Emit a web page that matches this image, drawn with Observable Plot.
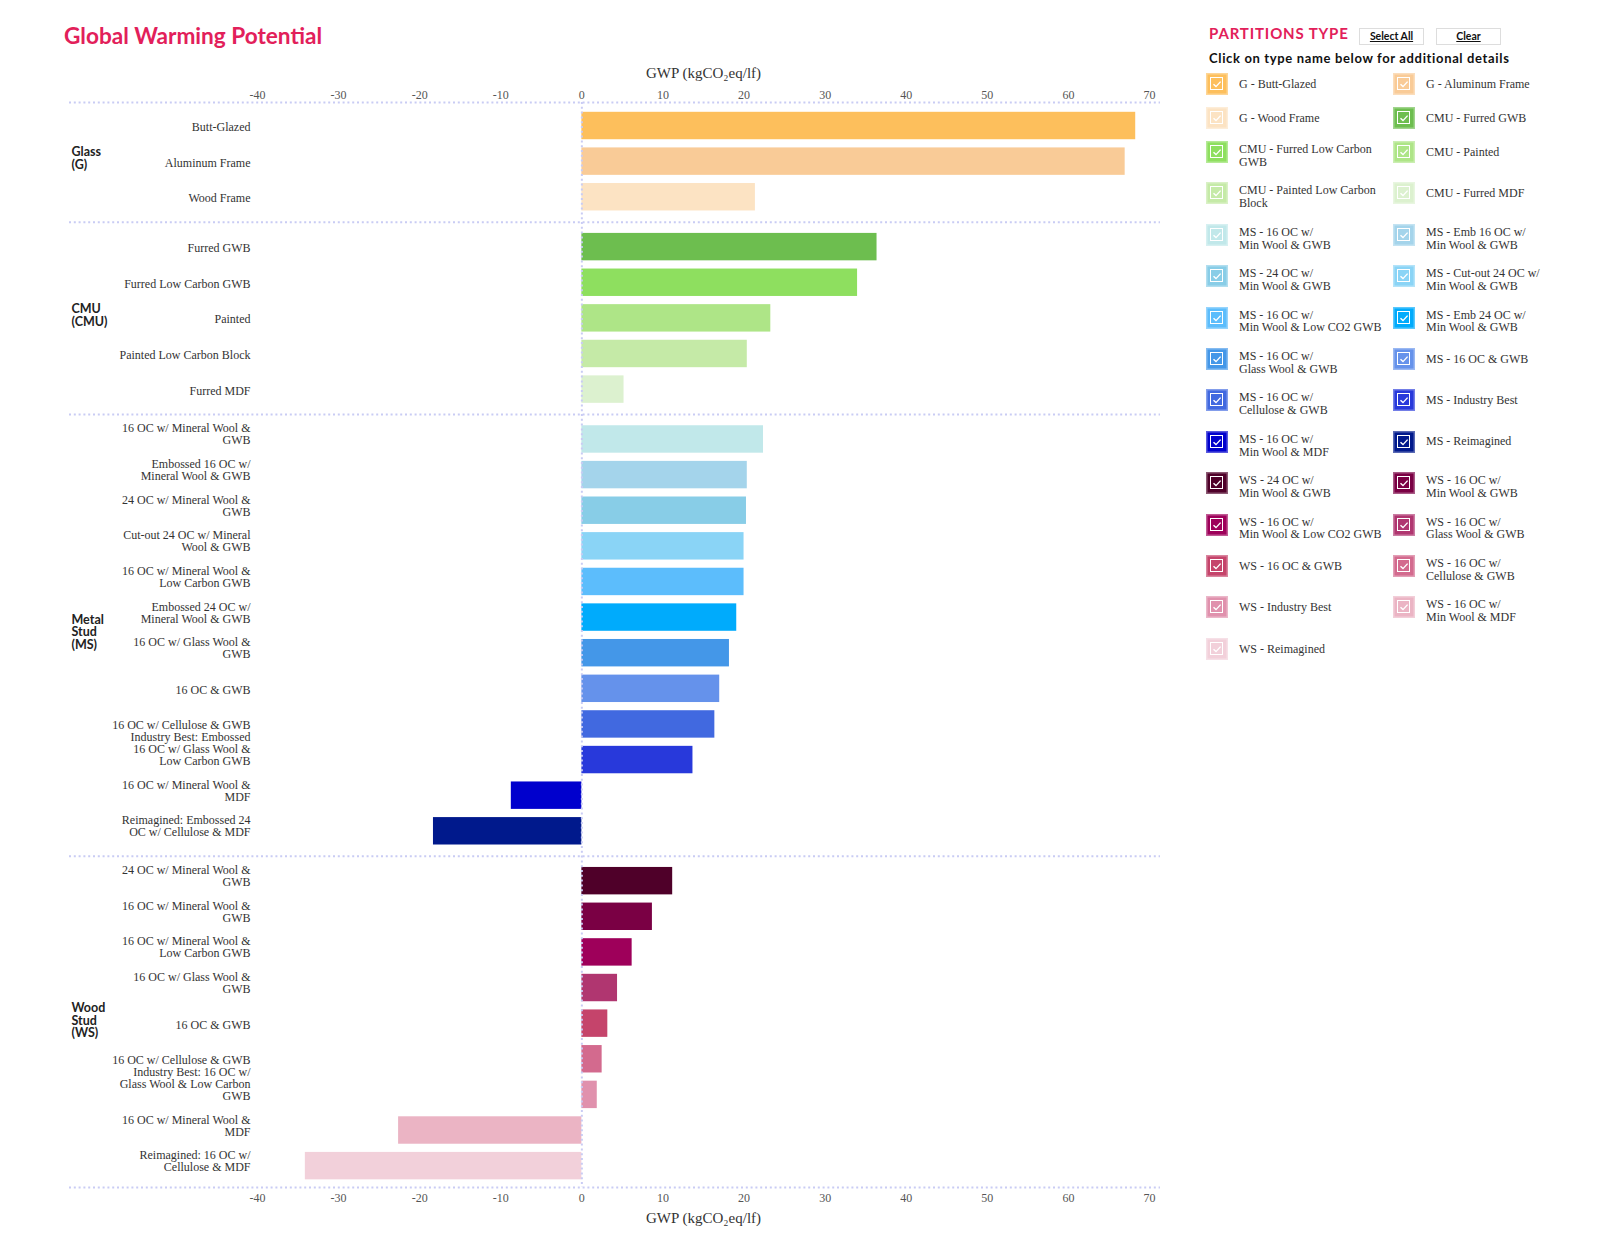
<!DOCTYPE html>
<html><head><meta charset="utf-8">
<script src="https://cdn.jsdelivr.net/npm/d3@7"></script>
<script src="https://cdn.jsdelivr.net/npm/@observablehq/plot@0.6"></script>
<style>
body{margin:0;background:#fff;width:1600px;height:1242px;position:relative;overflow:hidden}
#title{position:absolute;left:64px;top:25px;font:700 22.6px/22px Lato,sans-serif;color:#e2205a;white-space:nowrap}
#chart{position:absolute;left:0;top:55px}
#lgHead{position:absolute;left:1209px;top:26px;font:700 15px/15px Lato,sans-serif;color:#e2205a;letter-spacing:0.85px;white-space:nowrap}
.btn{position:absolute;top:28px;width:63px;height:15px;border:1.5px solid #ddd;font:700 10.5px/15px Lato,sans-serif;color:#111;text-align:center;text-decoration:underline}
#lgSub{position:absolute;left:1209px;top:52px;font:700 13px/13px Lato,sans-serif;color:#111;letter-spacing:0.65px;white-space:nowrap}
#legend{position:absolute;left:1206px;top:73px;display:grid;grid-template-columns:187px 187px;row-gap:12px}
.item{display:flex;align-items:flex-start}
.box{width:22px;height:22px;position:relative;flex:none;box-shadow:inset 0 0 0 1.5px rgba(255,255,255,0.35)}
.box .in{position:absolute;left:4px;top:4px;width:11px;height:11px;border:1.5px solid #fff}
.box svg{position:absolute;left:0;top:0}
.lab{margin-left:11px;min-height:22px;padding:2px 0;box-sizing:border-box;display:flex;align-items:center;white-space:pre-line;font:12px/12.7px 'Liberation Serif',serif;color:#333}
</style></head>
<body>
<div id="title">Global Warming Potential</div>
<div id="chart"></div>
<div id="lgHead">PARTITIONS TYPE</div>
<div class="btn" style="left:1359px">Select All</div>
<div class="btn" style="left:1436px">Clear</div>
<div id="lgSub">Click on type name below for additional details</div>
<div id="legend"></div>
<script>
// ---- data ----
const groupNames = ["Glass\n(G)", "CMU\n(CMU)", "Metal\nStud\n(MS)", "Wood\nStud\n(WS)"];
const groupCodes = ["G", "CMU", "MS", "WS"];

const glassLabels = ["Butt-Glazed", "Aluminum Frame", "Wood Frame"];
const glassValues = [68.3, 67.0, 21.4];
const glassColors = ["#FDBF5C", "#F9CB97", "#FCE3C3"];
const glassLegend = ["G - Butt-Glazed", "G - Aluminum Frame", "G - Wood Frame"];

const cmuLabels = ["Furred GWB", "Furred Low Carbon GWB", "Painted", "Painted Low Carbon Block", "Furred MDF"];
const cmuValues = [36.4, 34.0, 23.3, 20.4, 5.2];
const cmuColors = ["#6DBE4F", "#8EDF5F", "#AEE587", "#C5EAA7", "#DCF1CF"];
const cmuLegend = ["CMU - Furred GWB", "CMU - Furred Low Carbon\nGWB", "CMU - Painted", "CMU - Painted Low Carbon\nBlock", "CMU - Furred MDF"];

const msLabels = ["16 OC w/ Mineral Wool &\nGWB", "Embossed 16 OC w/\nMineral Wool & GWB", "24 OC w/ Mineral Wool &\nGWB",
  "Cut-out 24 OC w/ Mineral\nWool & GWB", "16 OC w/ Mineral Wool &\nLow Carbon GWB", "Embossed 24 OC w/\nMineral Wool & GWB",
  "16 OC w/ Glass Wool &\nGWB", "16 OC & GWB", "16 OC w/ Cellulose & GWB",
  "Industry Best: Embossed\n16 OC w/ Glass Wool &\nLow Carbon GWB", "16 OC w/ Mineral Wool &\nMDF", "Reimagined: Embossed 24\nOC w/ Cellulose & MDF"];
const msValues = [22.4, 20.4, 20.3, 20.0, 20.0, 19.1, 18.2, 17.0, 16.4, 13.7, -8.7, -18.3];
const msColors = ["#C1E8EA", "#A4D4EB", "#88CDE7", "#8AD4F6", "#5CBDFC", "#00ABFC", "#4497E8", "#6592EB", "#4169E0", "#2839DB", "#0000CD", "#00198C"];
const msLegend = ["MS - 16 OC w/\nMin Wool & GWB", "MS - Emb 16 OC w/\nMin Wool & GWB", "MS - 24 OC w/\nMin Wool & GWB",
  "MS - Cut-out 24 OC w/\nMin Wool & GWB", "MS - 16 OC w/\nMin Wool & Low CO2 GWB", "MS - Emb 24 OC w/\nMin Wool & GWB",
  "MS - 16 OC w/\nGlass Wool & GWB", "MS - 16 OC & GWB", "MS - 16 OC w/\nCellulose & GWB", "MS - Industry Best",
  "MS - 16 OC w/\nMin Wool & MDF", "MS - Reimagined"];

const wsLabels = ["24 OC w/ Mineral Wool &\nGWB", "16 OC w/ Mineral Wool &\nGWB", "16 OC w/ Mineral Wool &\nLow Carbon GWB",
  "16 OC w/ Glass Wool &\nGWB", "16 OC & GWB", "16 OC w/ Cellulose & GWB",
  "Industry Best: 16 OC w/\nGlass Wool & Low Carbon\nGWB", "16 OC w/ Mineral Wool &\nMDF", "Reimagined: 16 OC w/\nCellulose & MDF"];
const wsValues = [11.2, 8.7, 6.2, 4.4, 3.2, 2.5, 1.9, -22.6, -34.1];
const wsColors = ["#4F0029", "#7A0044", "#9E005A", "#B03670", "#C5446B", "#D36A8E", "#E091AD", "#EBB4C4", "#F2D0DA"];
const wsLegend = ["WS - 24 OC w/\nMin Wool & GWB", "WS - 16 OC w/\nMin Wool & GWB", "WS - 16 OC w/\nMin Wool & Low CO2 GWB",
  "WS - 16 OC w/\nGlass Wool & GWB", "WS - 16 OC & GWB", "WS - 16 OC w/\nCellulose & GWB", "WS - Industry Best",
  "WS - 16 OC w/\nMin Wool & MDF", "WS - Reimagined"];

const xTicks = [-40, -30, -20, -10, 0, 10, 20, 30, 40, 50, 60, 70];
const xLabel = "GWP (kgCO\u2082eq/lf)";

// ---- table built from the arrays ----
const groupTable = [
  {labels: glassLabels, values: glassValues, colors: glassColors, legend: glassLegend},
  {labels: cmuLabels, values: cmuValues, colors: cmuColors, legend: cmuLegend},
  {labels: msLabels, values: msValues, colors: msColors, legend: msLegend},
  {labels: wsLabels, values: wsValues, colors: wsColors, legend: wsLegend}
];
const GAP = 0.4;      // extra band gap between groups
const HALF = 0.385;   // half bar thickness in band units
const rows = [];
const groupRows = [];
const seps = [];
let idx = 0;
groupTable.forEach((g, gi) => {
  const start = rows.length;
  g.labels.forEach((lab, i) => {
    rows.push({key: groupCodes[gi] + "-" + i, label: lab, value: g.values[i], color: g.colors[i], legend: g.legend[i], pos: idx + gi * GAP});
    idx++;
  });
  const first = rows[start].pos, last = rows[rows.length - 1].pos;
  groupRows.push({name: groupNames[gi], pos: (first + last) / 2, first, last});
});
seps.push(rows[0].pos - 0.66);
for (let i = 0; i < groupRows.length - 1; i++) seps.push((groupRows[i].last + groupRows[i + 1].first) / 2);
seps.push(rows[rows.length - 1].pos + 0.6);

const dotted = {stroke: "#c9ccf4", strokeWidth: 2, strokeDasharray: "2 2.8"};

const chart = Plot.plot({
  width: 1170, height: 1180,
  marginLeft: 257, marginRight: 21, marginTop: 47, marginBottom: 48,
  style: {fontFamily: "'Liberation Serif', serif", fontSize: "12px", color: "#333", background: "#fff"},
  x: {domain: [-40, 70], axis: null},
  y: {type: "linear", domain: [seps[0], seps[seps.length - 1]], reverse: true, axis: null},
  color: {type: "ordinal", domain: rows.map(d => d.key), range: rows.map(d => d.color)},
  marks: [
    Plot.ruleY(seps, {y: d => d, ...dotted, insetLeft: -188, insetRight: -11}),
    Plot.rectX(rows, {x1: 0, x2: "value", y1: d => d.pos - HALF, y2: d => d.pos + HALF, fill: "key"}),
    Plot.ruleX([0], dotted),
    Plot.axisX(xTicks, {anchor: "top", tickSize: 0, tickPadding: 4, tickFormat: d => String(d), label: null, fontSize: 12, fill: "#555"}),
    Plot.axisX(xTicks, {anchor: "bottom", tickSize: 0, tickPadding: 6, tickFormat: d => String(d), label: null, fontSize: 12, fill: "#555"}),
    Plot.text([xLabel], {text: d => d, frameAnchor: "top", lineAnchor: "middle", dy: -29, fontSize: 15, fill: "#333"}),
    Plot.text([xLabel], {text: d => d, frameAnchor: "bottom", lineAnchor: "middle", dy: 30.5, fontSize: 15, fill: "#333"}),
    Plot.text(rows, {y: "pos", text: "label", frameAnchor: "left", textAnchor: "end", dx: -7, lineAnchor: "bottom", dy: 5, fontSize: 12, fill: "#333"}),
    Plot.text(groupRows, {y: "pos", text: "name", frameAnchor: "left", textAnchor: "start", dx: -186, dy: -3, fontFamily: "Lato, sans-serif", fontWeight: 700, fontSize: 12.5, lineHeight: 1, fill: "#222"})
  ]
});
document.getElementById("chart").appendChild(chart);

// ---- legend (HTML) ----
const lg = document.getElementById("legend");
rows.forEach(d => {
  const it = document.createElement("div");
  it.className = "item";
  it.innerHTML = `<div class="box" style="background:${d.color}"><div class="in"></div>` +
    `<svg width="22" height="22" viewBox="0 0 22 22"><path d="M7.5 11.2 L10 13.6 L14.6 8.6" stroke="#fff" stroke-width="1.4" fill="none"/></svg></div>` +
    `<div class="lab"></div>`;
  it.querySelector(".lab").textContent = d.legend;
  lg.appendChild(it);
});
</script>
</body></html>
